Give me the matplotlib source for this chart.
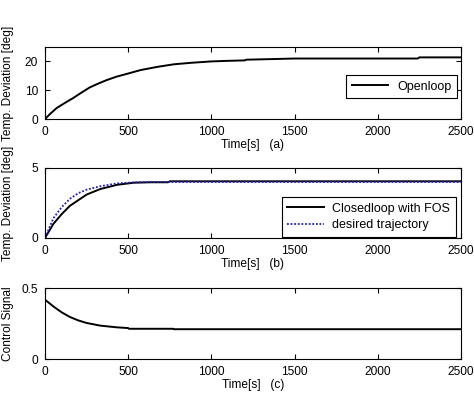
import matplotlib
matplotlib.use("Agg")
import matplotlib.pyplot as plt
import matplotlib.ticker as ticker

#
# data
#

# (a) open loop temperature deviation
open_t = [0, 35, 70, 120, 170, 220, 270, 320, 370, 430, 500, 575, 675, 775,
          875, 1000, 1100, 1200, 1210, 1360, 1500, 1750, 2000, 2240, 2250, 2500]
open_v = [0, 2.0, 3.8, 5.6, 7.3, 9.2, 11.0, 12.3, 13.5, 14.7, 15.8, 17.0,
          18.1, 19.0, 19.5, 20.0, 20.2, 20.35, 20.6, 20.8, 21.0, 21.0, 21.0,
          21.0, 21.4, 21.4]

# (b) closed loop vs desired trajectory
closed_t = [0, 50, 100, 150, 200, 250, 333, 434, 534, 636, 740, 750, 2500]
closed_v = [0, 1.0, 1.7, 2.3, 2.7, 3.1, 3.5, 3.8, 3.95, 3.98, 3.98, 4.05, 4.05]
desired_t = [0, 50, 100, 150, 200, 250, 333, 434, 534, 640, 2500]
desired_v = [0, 1.4, 2.2, 2.8, 3.2, 3.45, 3.7, 3.9, 3.97, 4.0, 4.0]

# (c) control signal
ctrl_t = [0, 0, 50, 100, 150, 200, 250, 333, 434, 500, 505, 770, 775, 2500]
ctrl_v = [0, 0.418, 0.371, 0.329, 0.296, 0.272, 0.254, 0.235, 0.223, 0.218,
          0.213, 0.213, 0.210, 0.210]

x_ticks = [0, 500, 1000, 1500, 2000, 2500]

FS = 8.6
plt.rcParams["font.family"] = ["Liberation Sans", "DejaVu Sans"]
plt.rcParams["font.size"] = FS


def style_axes(ax, ylim, yticks, xlabel, ylabel):
    ax.set_xlim(0, 2500)
    ax.set_ylim(*ylim)
    ax.set_xticks(x_ticks)
    ax.set_yticks(yticks)
    ax.yaxis.set_major_formatter(ticker.FuncFormatter(lambda v, p: "%g" % v))
    ax.tick_params(direction="in", top=True, right=True, length=3.5,
                   width=0.8, pad=5, labelsize=FS)
    for s in ax.spines.values():
        s.set_linewidth(0.8)
    ax.set_xlabel(xlabel, labelpad=1)
    ax.set_ylabel(ylabel)
    ax.yaxis.set_label_coords(-0.074, 0.5)


def legend(ax, **kw):
    leg = ax.legend(fancybox=False, edgecolor="black", framealpha=1,
                    handlelength=2.9, handletextpad=0.7, borderpad=0.45,
                    labelspacing=0.35, fontsize=9, borderaxespad=0, **kw)
    leg.get_frame().set_linewidth(0.8)
    return leg


def main():
    fig = plt.figure(figsize=(4.74, 3.95), dpi=100)
    left, width = 0.0949, 0.8776
    ax1 = fig.add_axes([left, 0.6987, width, 0.1823])
    ax2 = fig.add_axes([left, 0.3975, width, 0.1772])
    ax3 = fig.add_axes([left, 0.0911, width, 0.1797])

    ax1.plot(open_t, open_v, color="black", lw=1.4, label="Openloop")
    style_axes(ax1, (0, 25), [0, 10, 20], "Time[s]   (a)", "Temp. Deviation [deg]")
    legend(ax1, loc="upper right", bbox_to_anchor=(0.99, 0.61))

    ax2.plot(closed_t, closed_v, color="black", lw=1.4, label="Closedloop with FOS")
    ax2.plot(desired_t, desired_v, color="#2020b0", lw=1.3, ls=(0, (1, 1)),
             label="desired trajectory")
    style_axes(ax2, (0, 5), [0, 5], "Time[s]   (b)", "Temp. Deviation [deg]")
    legend(ax2, loc="lower right", bbox_to_anchor=(0.988, 0.02))

    ax3.plot(ctrl_t, ctrl_v, color="black", lw=1.4)
    style_axes(ax3, (0, 0.5), [0, 0.5], "Time[s]   (c)", "Control Signal")

    fig.savefig("out.png", dpi=100)


if __name__ == "__main__":
    main()
